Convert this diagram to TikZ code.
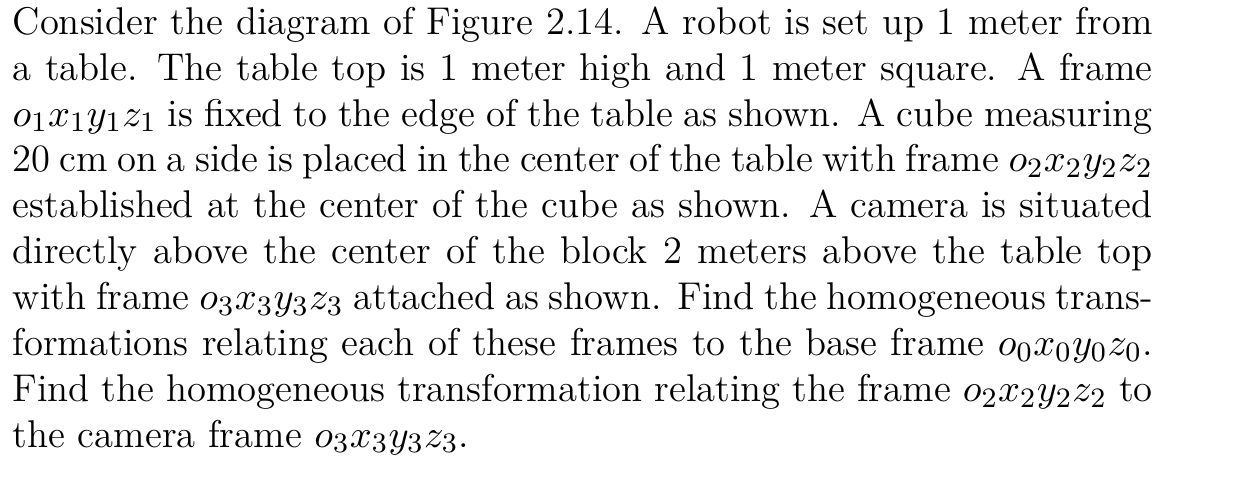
\documentclass[tikz,border=0pt]{standalone}
\begin{document}
\begin{tikzpicture}
\useasboundingbox (0,0) rectangle (12.58,-4.82);
\node[anchor=north west,inner sep=0pt,text width=11.40cm,align=justify,font=\fontsize{11}{13.05}\selectfont] (p) at (0.12,-0.06) {%
Consider the diagram of Figure 2.14. A robot is set up 1 meter from\linebreak
a table. The table top is 1 meter high and 1 meter square. A frame\linebreak
$o_1x_1y_1z_1$ is fixed to the edge of the table as shown. A cube measuring\linebreak
20 cm on a side is placed in the center of the table with frame $o_2x_2y_2z_2$\linebreak
established at the center of the cube as shown. A camera is situated\linebreak
directly above the center of the block 2 meters above the table top\linebreak
with frame $o_3x_3y_3z_3$ attached as shown. Find the homogeneous trans-\linebreak
formations relating each of these frames to the base frame $o_0x_0y_0z_0$.\linebreak
Find the homogeneous transformation relating the frame $o_2x_2y_2z_2$ to\linebreak
the camera frame $o_3x_3y_3z_3$.};
\end{tikzpicture}
\end{document}
